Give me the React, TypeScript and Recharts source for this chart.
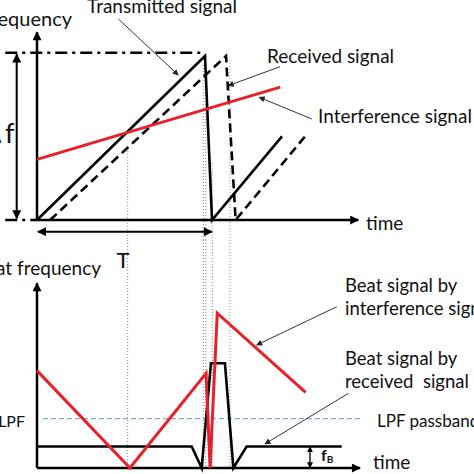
import React from "react";
import { LineChart, Line, XAxis, YAxis, ReferenceLine } from "recharts";

// time in chirp periods (T = 1), frequency in sweep bandwidth (Δf = 1)
const txTime = [0, 0.96, 1.0, 1.4];
const txFreq = [0, 1, 0, 0.51];
const rxTime = [0.075, 1.08, 1.135, 1.54];
const rxFreq = [0, 1, 0, 0.52];
const intfTime = [0, 1.39];
const intfFreq = [0.37, 0.81];

// beat frequency in units of fB
const beatRxTime = [0, 0.884, 0.941, 0.994, 1.074, 1.122, 1.198, 1.741];
const beatRxFreq = [1, 1, 0, 4.87, 4.87, 0, 1, 1];
const beatIntfTime = [0, 0.531, 0.966, 0.989, 1.03, 1.535];
const beatIntfFreq = [4.53, 0, 4.4, 0, 7.2, 3.52];
const lpfLevel = 2.3;

// dotted guide lines: time and the frequency where each starts in the top plot
const guideTime = [0.518, 0.95, 0.964, 1.002, 1.103];
const guideStart = [0.44, 0.945, 1.0, 0.35, 0.976];

const W = 474;
const X0 = 37;
const PX_T = 175;
const TOP_H = 240;
const TOP_Y0 = 220;
const PX_F = 164;
const BOT_H = 234;
const BOT_Y0 = 228;
const PX_B = 21.5;

const xDomain = [-X0 / PX_T, (W - X0) / PX_T];
const topDomain = [-(TOP_H - TOP_Y0) / PX_F, TOP_Y0 / PX_F];
const botDomain = [-(BOT_H - BOT_Y0) / PX_B, BOT_Y0 / PX_B];

const zip = (ts: number[], fs: number[]) => ts.map((t, i) => ({ t, f: fs[i] }));

const FONT = "Lato, 'Open Sans', sans-serif";
const RED = "#e8202a";
const margin = { top: 0, right: 0, bottom: 0, left: 0 };

const seg = (x1: number, y1: number, x2: number, y2: number) => [
  { x: x1, y: y1 },
  { x: x2, y: y2 },
];

function Axes({ domain }: { domain: number[] }) {
  return [
    <XAxis key="x" dataKey="t" type="number" domain={xDomain} allowDataOverflow hide />,
    <YAxis key="y" dataKey="f" type="number" domain={domain} allowDataOverflow hide />,
  ];
}

const lineProps = { type: "linear" as const, dot: false, activeDot: false, isAnimationActive: false };

function TopChart() {
  return (
    <LineChart width={W} height={TOP_H} margin={margin}>
      {Axes({ domain: topDomain })}
      {guideTime.map((t, i) => (
        <ReferenceLine key={i} segment={seg(t, guideStart[i], t, topDomain[0])} stroke="#888" strokeWidth={1} strokeDasharray="1 2" ifOverflow="visible" />
      ))}
      <ReferenceLine segment={seg(xDomain[0] + 0.03, 1.02, 0.943, 1.02)} stroke="#000" strokeWidth={2.5} strokeDasharray="12 5 3 5" ifOverflow="visible" />
      <ReferenceLine segment={seg(xDomain[0] + 0.03, 0, 0, 0)} stroke="#000" strokeWidth={2.5} strokeDasharray="12 5 3 5" ifOverflow="visible" />
      <ReferenceLine segment={seg(0, 0, 0, 1.145)} stroke="#000" strokeWidth={2.5} markerEnd="url(#ah)" ifOverflow="visible" />
      <ReferenceLine segment={seg(0, 0, 1.836, 0)} stroke="#000" strokeWidth={2.5} markerEnd="url(#ah)" ifOverflow="visible" />
      <ReferenceLine segment={seg(-0.116, 0.01, -0.116, 1.01)} stroke="#000" strokeWidth={2} markerStart="url(#ah)" markerEnd="url(#ah)" ifOverflow="visible" />
      <ReferenceLine segment={seg(0.005, -0.071, 1.0, -0.071)} stroke="#000" strokeWidth={2} markerStart="url(#ah)" markerEnd="url(#ah)" ifOverflow="visible" />
      <ReferenceLine segment={seg(0.465, 1.226, 0.807, 0.884)} stroke="#333" strokeWidth={1} markerEnd="url(#as)" ifOverflow="visible" />
      <ReferenceLine segment={seg(1.389, 0.935, 1.093, 0.819)} stroke="#333" strokeWidth={1} markerEnd="url(#as)" ifOverflow="visible" />
      <ReferenceLine segment={seg(1.57, 0.616, 1.27, 0.748)} stroke="#333" strokeWidth={1} markerEnd="url(#as)" ifOverflow="visible" />
      <Line {...lineProps} data={zip(rxTime, rxFreq)} dataKey="f" stroke="#000" strokeWidth={2.6} strokeDasharray="9 5" />
      <Line {...lineProps} data={zip(txTime, txFreq)} dataKey="f" stroke="#000" strokeWidth={2.6} />
      <Line {...lineProps} data={zip(intfTime, intfFreq)} dataKey="f" stroke={RED} strokeWidth={3} />
    </LineChart>
  );
}

function BottomChart() {
  return (
    <LineChart width={W} height={BOT_H} margin={margin}>
      {Axes({ domain: botDomain })}
      {guideTime.map((t, i) => (
        <ReferenceLine key={i} segment={seg(t, botDomain[1], t, -0.12)} stroke="#888" strokeWidth={1} strokeDasharray="1 2" ifOverflow="visible" />
      ))}
      <ReferenceLine segment={seg(0.034, lpfLevel, 1.857, lpfLevel)} stroke="#86a9c9" strokeWidth={1.2} strokeDasharray="5 3" ifOverflow="visible" />
      <ReferenceLine segment={seg(0, 0, 0, 8.6)} stroke="#000" strokeWidth={2.5} markerEnd="url(#ah)" ifOverflow="visible" />
      <ReferenceLine segment={seg(0, 0, 1.846, 0)} stroke="#000" strokeWidth={2.5} markerEnd="url(#ah)" ifOverflow="visible" />
      <ReferenceLine segment={seg(1.56, 0.02, 1.56, 0.98)} stroke="#000" strokeWidth={1.3} markerStart="url(#af)" markerEnd="url(#af)" ifOverflow="visible" />
      <ReferenceLine segment={seg(1.713, 7.5, 1.255, 5.72)} stroke="#333" strokeWidth={1} markerEnd="url(#as)" ifOverflow="visible" />
      <ReferenceLine segment={seg(1.779, 3.47, 1.303, 1.12)} stroke="#333" strokeWidth={1} markerEnd="url(#as)" ifOverflow="visible" />
      <Line {...lineProps} data={zip(beatRxTime, beatRxFreq)} dataKey="f" stroke="#000" strokeWidth={2.6} />
      <Line {...lineProps} data={zip(beatIntfTime, beatIntfFreq)} dataKey="f" stroke={RED} strokeWidth={3} />
    </LineChart>
  );
}

function Overlay() {
  const t = { fontFamily: FONT, fill: "#111" } as const;
  return (
    <svg width={W} height={W} style={{ position: "absolute", left: 0, top: 0, pointerEvents: "none" }}>
      <defs>
        <marker id="ah" viewBox="0 0 10 10" refX="9" refY="5" markerWidth="11" markerHeight="9" markerUnits="userSpaceOnUse" orient="auto-start-reverse">
          <path d="M0,0 L10,5 L0,10 z" fill="#000" />
        </marker>
        <marker id="as" viewBox="0 0 10 10" refX="9" refY="5" markerWidth="8" markerHeight="6" markerUnits="userSpaceOnUse" orient="auto-start-reverse">
          <path d="M0,0 L10,5 L0,10 z" fill="#222" />
        </marker>
        <marker id="af" viewBox="0 0 10 10" refX="9" refY="5" markerWidth="6" markerHeight="6" markerUnits="userSpaceOnUse" orient="auto-start-reverse">
          <path d="M0,0 L10,5 L0,10 z" fill="#000" />
        </marker>
      </defs>
      <text {...t} x={72} y={26} fontSize={20} textAnchor="end">Frequency</text>
      <text {...t} x={87} y={13} fontSize={19}>Transmitted signal</text>
      <text {...t} x={267} y={63} fontSize={19}>Received signal</text>
      <text {...t} x={318} y={123} fontSize={19}>Interference signal</text>
      <text {...t} y={143} fontSize={27}>
        <tspan x={-17}>Δ</tspan>
        <tspan x={5}>f</tspan>
      </text>
      <text {...t} x={366} y={230} fontSize={19}>time</text>
      <text {...t} x={123} y={268} fontSize={22} textAnchor="middle">T</text>
      <text {...t} x={101} y={275} fontSize={19} textAnchor="end">Beat frequency</text>
      <text {...t} x={25} y={427} fontSize={16} textAnchor="end">
        <tspan fontSize={21} dy={-4}>f</tspan>
        <tspan dy={4}>LPF</tspan>
      </text>
      <text {...t} x={345} y={292} fontSize={18.5}>Beat signal by</text>
      <text {...t} x={345} y={315} fontSize={18.5}>interference signal</text>
      <text {...t} x={345} y={365} fontSize={18.5}>Beat signal by</text>
      <text {...t} x={345} y={388} fontSize={18.5} style={{ whiteSpace: "pre" }}>received  signal</text>
      <text {...t} x={377} y={427} fontSize={17}>LPF passband</text>
      <text {...t} x={373} y={469} fontSize={19}>time</text>
      <text {...t} x={321} y={461} fontSize={16} fontWeight="bold">
        f<tspan fontSize={10} dy={2}>B</tspan>
      </text>
    </svg>
  );
}

export default function App() {
  return (
    <div style={{ position: "absolute", left: 0, top: 0, width: W, height: W, background: "#fff" }}>
      <div style={{ position: "absolute", left: 0, top: 0 }}>
        <TopChart />
      </div>
      <div style={{ position: "absolute", left: 0, top: TOP_H }}>
        <BottomChart />
      </div>
      <Overlay />
    </div>
  );
}
